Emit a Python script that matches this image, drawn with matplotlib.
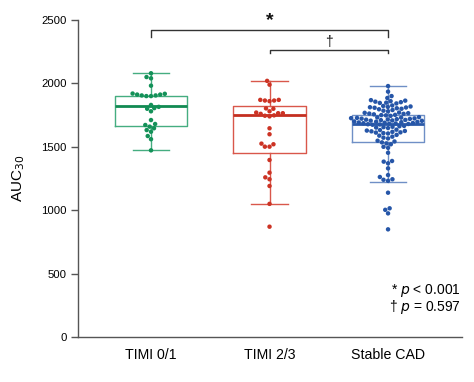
import matplotlib
matplotlib.use("Agg")
import matplotlib.pyplot as plt
import numpy as np
import pandas as pd
import seaborn as sns

categories = ["TIMI 0/1", "TIMI 2/3", "Stable CAD"]

timi01 = [2080, 2050, 2040, 1982,
          1920, 1912, 1905, 1900, 1900, 1905, 1912, 1918,
          1830, 1815, 1800, 1780, 1805,
          1711, 1680, 1672, 1659, 1646, 1632, 1619, 1585, 1560,
          1472]

timi23 = [2020, 1990, 1870, 1865, 1860, 1865, 1870, 1803, 1800,
          1780, 1770, 1765, 1760, 1748, 1745, 1765, 1740,
          1646, 1599, 1520, 1501, 1501, 1525,
          1396, 1296, 1259, 1244, 1191, 1050, 870]

stable = ([1979, 1935, 1900, 1885]
          + [1860, 1852, 1848, 1842, 1856, 1864, 1846, 1868]
          + [1815, 1822, 1808, 1812, 1800, 1826, 1804, 1818, 1810, 1796]
          + [1785, 1790, 1780]
          + [1762, 1768, 1752, 1760, 1748, 1765, 1756, 1770, 1744, 1750]
          + [1730, 1722, 1714, 1726, 1708, 1718, 1712, 1734, 1705, 1720,
             1716, 1724, 1710, 1728, 1706, 1732]
          + [1690, 1682, 1696, 1678, 1700, 1686, 1692, 1676, 1698, 1684,
             1694, 1680, 1688, 1674]
          + [1655, 1662, 1648, 1658, 1652, 1665]
          + [1622, 1614, 1628, 1608, 1632, 1618, 1625, 1605, 1635, 1612]
          + [1580, 1572, 1588, 1566, 1594]
          + [1535, 1527, 1542, 1520, 1548]
          + [1500, 1492]
          + [1453]
          + [1388, 1383, 1370]
          + [1330]
          + [1277, 1262]
          + [1244, 1232, 1240]
          + [1138]
          + [1015, 1003]
          + [975]
          + [849])

# box statistics
q1 = [1666, 1453, 1538]
med = [1822, 1753, 1680]
q3 = [1903, 1824, 1753]
whislo = [1472, 1046, 1225]
whishi = [2084, 2021, 1979]

yticks = [0, 500, 1000, 1500, 2000, 2500]

dot_colors = ["#139158", "#cc3324", "#2656a8"]
box_colors = ["#45ad80", "#d9574b", "#6f8fc6"]
med_colors = ["#118a52", "#c42f20", "#2b5aa8"]

plt.rcParams['font.family'] = ['Liberation Sans', 'DejaVu Sans']

fig = plt.figure(figsize=(4.74, 3.82), dpi=100)
ax = fig.add_axes([78/474, 1-337/382, (462-78)/474, (337-20)/382])

groups = [timi01, timi23, stable]
df = pd.DataFrame({
    "group": sum([[c]*len(g) for c, g in zip(categories, groups)], []),
    "auc": sum([list(g) for g in groups], []),
})

# boxes
for i in range(3):
    st = [dict(med=med[i], q1=q1[i], q3=q3[i], whislo=whislo[i], whishi=whishi[i], fliers=[])]
    ax.bxp(st, positions=[i], widths=0.61, showfliers=False, patch_artist=False,
           boxprops=dict(color=box_colors[i], linewidth=1.0),
           whiskerprops=dict(color=box_colors[i], linewidth=1.0),
           capprops=dict(color=box_colors[i], linewidth=1.0),
           medianprops=dict(color=med_colors[i], linewidth=2.0),
           capwidths=0.305, manage_ticks=False, zorder=2)

sns.swarmplot(data=df, x="group", y="auc", hue="group", order=categories,
              hue_order=categories, palette=dot_colors, size=3.2, ax=ax,
              legend=False, zorder=3, linewidth=0)

ax.set_xlim(-0.616, 2.624)
ax.set_ylim(0, 2500)
ax.set_yticks(yticks)
ax.set_xticks(range(3))
ax.set_xticklabels(categories, fontsize=10.2)
ax.tick_params(axis='y', labelsize=8.2, length=5, width=1, color="#555555", pad=3)
ax.tick_params(axis='x', length=0, pad=8)
ax.set_xlabel("")
ax.set_ylabel("AUC$_{30}$", fontsize=11, labelpad=10)
for s in ["top", "right"]:
    ax.spines[s].set_visible(False)
for s in ["left", "bottom"]:
    ax.spines[s].set_color("#555555")
    ax.spines[s].set_linewidth(1.0)

# significance brackets
bc = "#333333"
ax.plot([0, 0, 2, 2], [2366, 2421, 2421, 2366], color=bc, lw=1.0, clip_on=False)
ax.plot([1, 1, 2, 2], [2242, 2263, 2263, 2242], color=bc, lw=1.0, clip_on=False)
ax.text(1, 2432, "*", ha="center", va="bottom", fontsize=14, fontweight="bold",
        color="#111111")
ax.text(1.5, 2272, "\u2020", ha="center", va="bottom", fontsize=10, color="#111111")

ax.text(0.998, 0.148, "* $\\it{p}$ < 0.001", transform=ax.transAxes, ha="right",
        va="center", fontsize=10)
ax.text(0.998, 0.096, "\u2020 $\\it{p}$ = 0.597", transform=ax.transAxes, ha="right",
        va="center", fontsize=10)

fig.savefig("out.png", dpi=100)
